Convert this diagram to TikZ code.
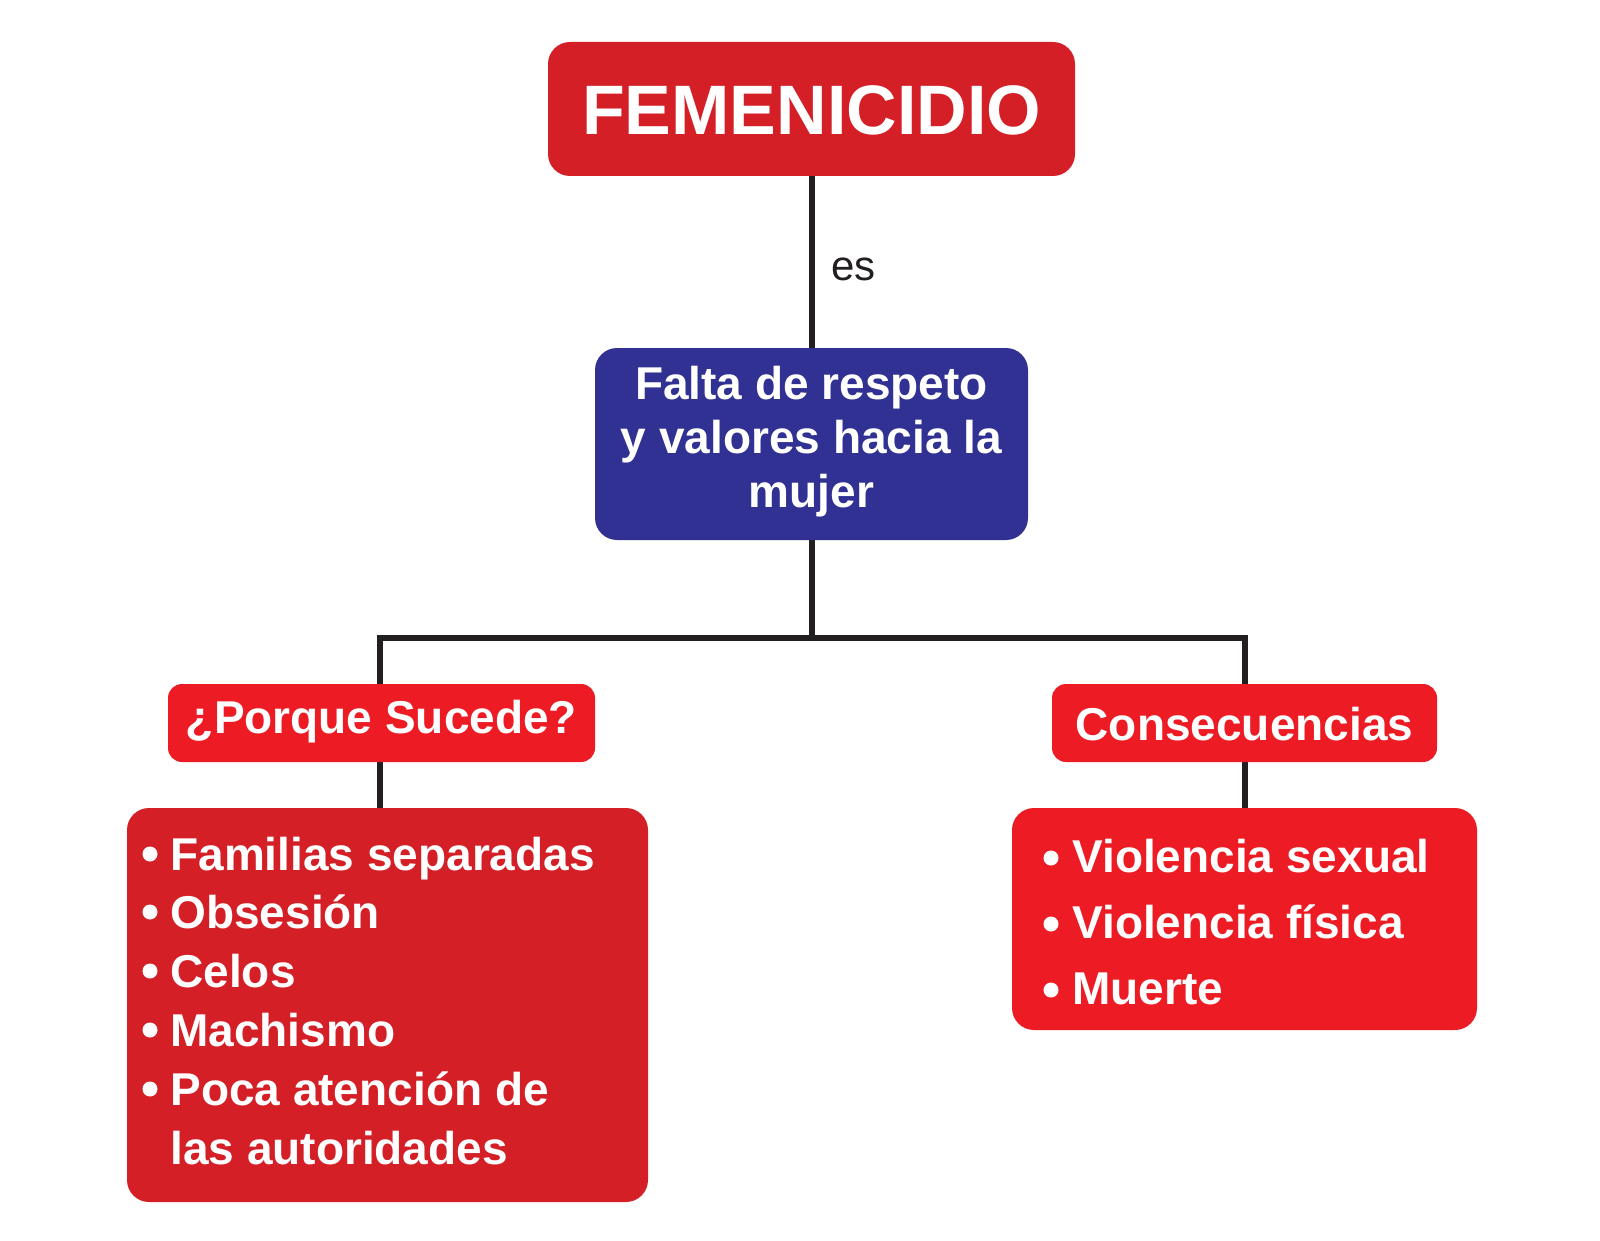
\documentclass[tikz,border=0pt]{standalone}
\usepackage{fontspec}
\setmainfont{Liberation Sans}
\definecolor{dred}{HTML}{D41F26}
\definecolor{bred}{HTML}{ED1C24}
\definecolor{nblue}{HTML}{303192}
\definecolor{lnk}{HTML}{231F20}
\begin{document}
\begin{tikzpicture}[x=0.5pt,y=-0.5pt,
  box/.style={rounded corners=11pt},
  conn/.style={draw=lnk,line width=2.6pt},
  itm/.style={anchor=base west,text=white,font=\bfseries\fontsize{23}{27}\selectfont,inner sep=0pt},
  bul/.style={circle,fill=white,inner sep=0pt,minimum size=7.5pt}]
\useasboundingbox (0,0) rectangle (1600,1241);
\fill[white] (0,0) rectangle (1600,1241);
% connectors
\coordinate (j1) at (812,638);
\coordinate (jl) at (380,638);
\coordinate (jr) at (1245,638);
\draw[conn] (812,176) -- (812,348);
\draw[conn] (812,540) -- (j1);
\draw[conn,line cap=rect] (jl) -- (jr);
\draw[conn] (jl) -- (380,690);
\draw[conn] (jr) -- (1245,690);
\draw[conn] (380,760) -- (380,810);
\draw[conn] (1245,760) -- (1245,810);
% boxes
\fill[dred,box] (548,42) rectangle (1075,176);
\node[text=white,font=\bfseries\fontsize{35}{40}\selectfont] (fem) at (811.5,110) {FEMENICIDIO};
\node[anchor=base west,font=\fontsize{21}{24}\selectfont,text=lnk] (es) at (824,280) {es};
\fill[nblue,box] (595,348) rectangle (1028,540);
\node[text=white,align=center,font=\bfseries\fontsize{23}{27}\selectfont] (falta) at (811.5,442) {Falta de respeto\\y valores hacia la\\mujer};
\fill[bred,rounded corners=7pt] (168,684) rectangle (595,762);
\node[text=white,font=\bfseries\fontsize{23}{27}\selectfont] (por) at (381.5,722) {¿Porque Sucede?};
\fill[bred,rounded corners=7pt] (1052,684) rectangle (1437,762);
\node[text=white,font=\bfseries\fontsize{23}{27}\selectfont] (cons) at (1244.5,724) {Consecuencias};
\fill[dred,box] (127,808) rectangle (648,1202);
\fill[bred,box] (1012,808) rectangle (1477,1030);
% left items
\foreach \t/\y [count=\i] in {Familias separadas/870,Obsesión/928,Celos/987,Machismo/1046,Poca atención de/1105}{
  \node[bul] (lb\i) at (150,\y-16) {};
  \node[itm] (li\i) at (170,\y) {\t};
}
\node[itm] (li6) at (170,1164) {las autoridades};
% right items
\foreach \t/\y [count=\i] in {Violencia sexual/872,Violencia física/938,Muerte/1004}{
  \node[bul] (rb\i) at (1051,\y-14) {};
  \node[itm] (ri\i) at (1072,\y) {\t};
}
\end{tikzpicture}
\end{document}
